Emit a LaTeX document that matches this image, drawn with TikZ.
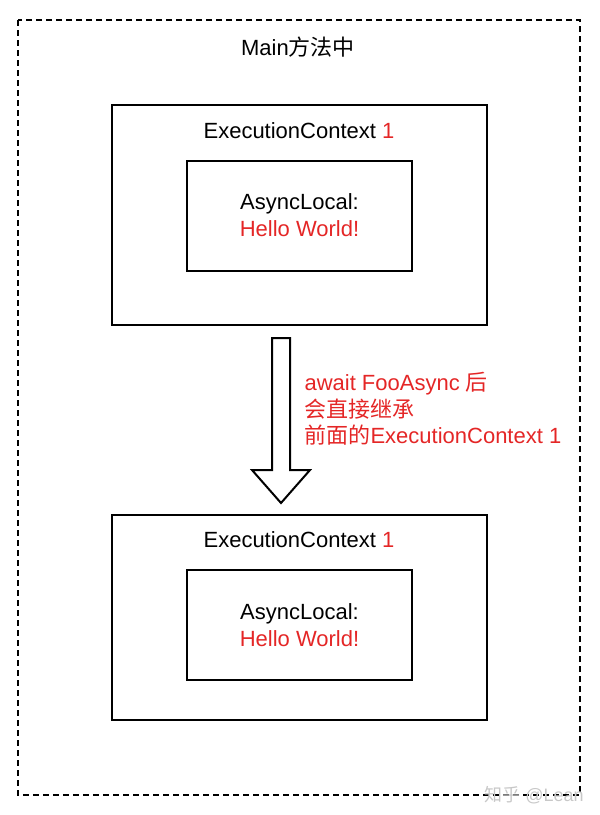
\documentclass[tikz,border=0pt]{standalone}
\usepackage{fontspec}
\setmainfont{Liberation Sans}
\newfontfamily\cjk{Noto Sans CJK SC}
\usetikzlibrary{positioning}

\begin{document}
\begin{tikzpicture}[x=1pt, y=-1pt,
    every node/.style={font=\fontsize{22}{27}\selectfont, text=black},
    ctxbox/.style={draw, line width=2pt, minimum width=375pt, inner sep=0pt},
    localbox/.style={draw, line width=2pt, minimum width=225pt, minimum height=110pt, align=center, inner sep=0pt},
    note/.style={font=\fontsize{22}{26.5}\selectfont, text=hired, align=left, anchor=west}
]
\definecolor{hired}{RGB}{228,38,38}    % Red highlight
\definecolor{mark}{RGB}{200,200,200}   % Watermark grey

\useasboundingbox (0,0) rectangle (600,815);

% Outer frame of the Main method
\draw[line width=1.8pt, dash pattern=on 6pt off 4pt] (18,20) rectangle (580,795);
\node (title) at (298,47) {Main{\cjk 方法中}};

% First execution context
\node[ctxbox, minimum height=220pt] (ctxa) at (299.5,215) {};
\node (ctxalabel) at (299,131) {ExecutionContext \textcolor{hired}{1}};
\node[localbox] (locala) at (299.5,215.5) {AsyncLocal:\\\textcolor{hired}{Hello World!}};

% Second execution context
\node[ctxbox, minimum height=205pt] (ctxb) at (299.5,617.5) {};
\node (ctxblabel) at (299,540) {ExecutionContext \textcolor{hired}{1}};
\node[localbox] (localb) at (299.5,625) {AsyncLocal:\\\textcolor{hired}{Hello World!}};

% Block arrow between the two contexts
\draw[line width=2pt, line join=miter] (272,338) -- (290,338) -- (290,470) -- (310,470)
    -- (281,503) -- (252,470) -- (272,470) -- cycle;
\node[note] (await) at (301,409) {await FooAsync {\cjk 后}\\{\cjk 会直接继承}\\{\cjk 前面的}ExecutionContext 1};

% Watermark
\node[font=\fontsize{18}{20}\selectfont, text=mark] (zhihu) at (534,795) {{\cjk 知乎} @Lean};

\end{tikzpicture}
\end{document}
